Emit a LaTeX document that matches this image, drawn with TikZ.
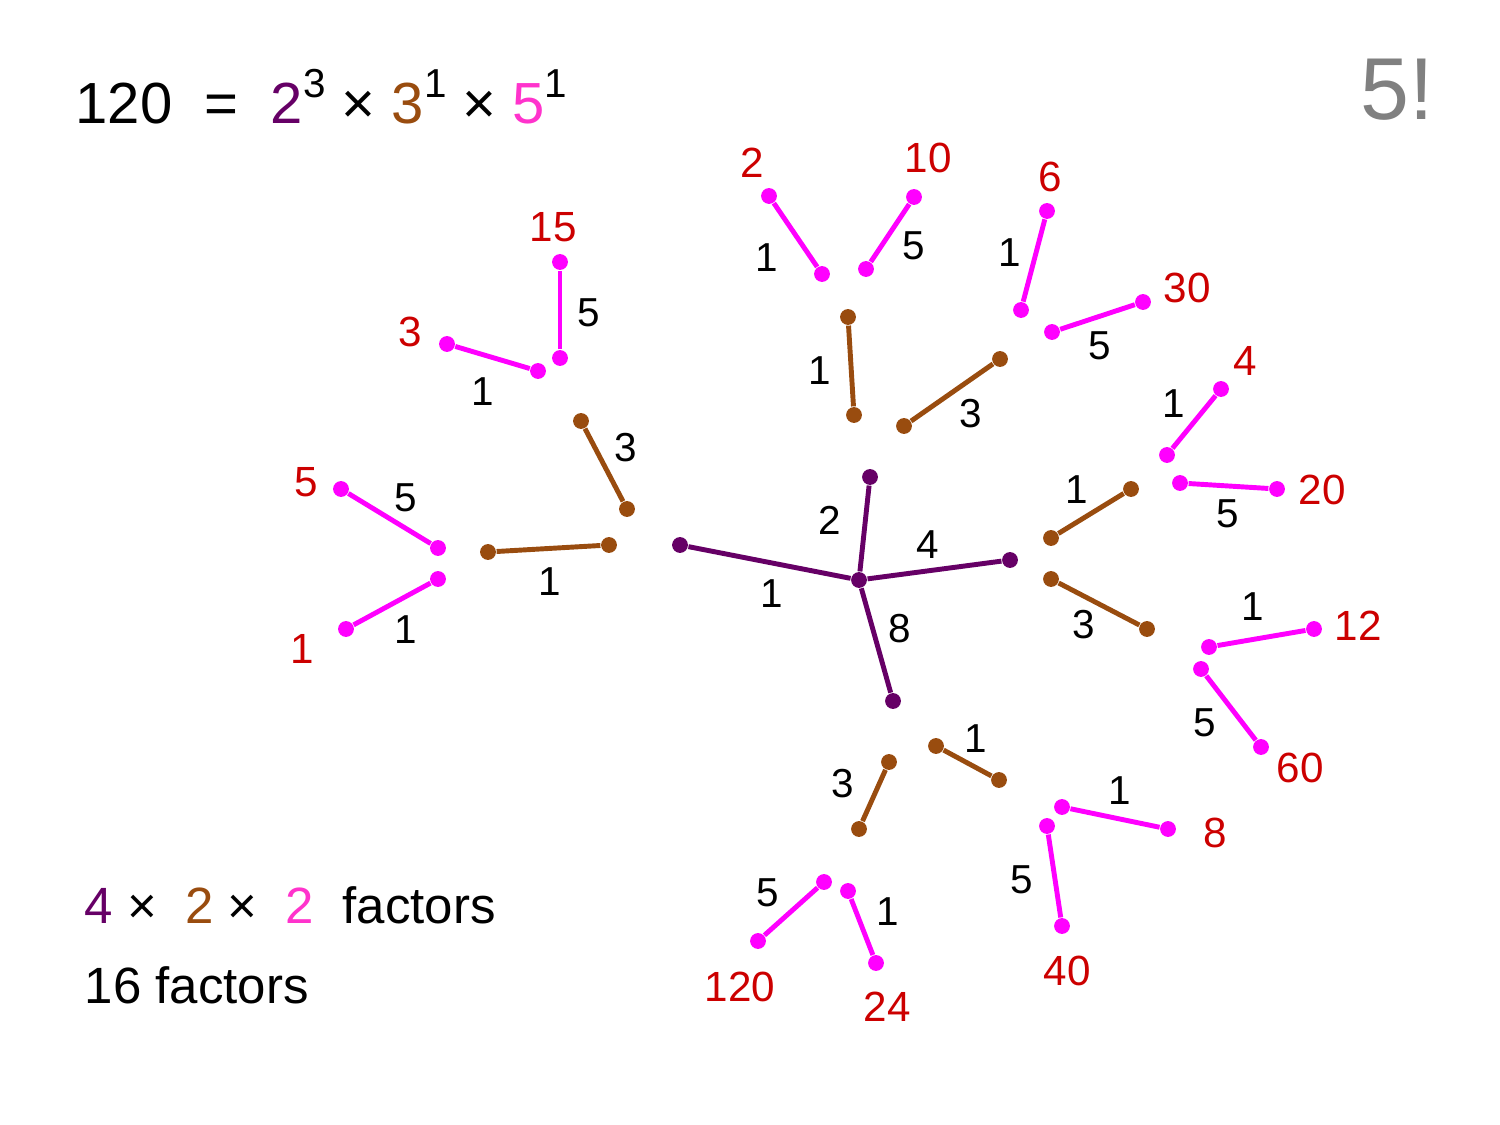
\documentclass[tikz,border=0pt]{standalone}
\usepackage{fontspec}
\setmainfont{Liberation Sans}
\definecolor{pur}{HTML}{660066}
\definecolor{brn}{HTML}{994C0F}
\definecolor{mag}{HTML}{FF00FF}
\definecolor{pnk}{HTML}{FF33CC}
\definecolor{leafred}{HTML}{CC0000}
\tikzset{
  dotend/.style={circle,fill,inner sep=0pt,minimum size=4.5pt},
  lab/.style={font=\fontsize{11.5}{13}\selectfont,text=black},
  leaf/.style={font=\fontsize{12}{14}\selectfont,text=leafred},
  seg/.style={line width=1.4pt}
}
% #1 name, #2 colour, #3 start, #4 end, #5 label pos, #6 label
\newcommand\mseg[6]{%
  \node[dotend,#2] (#1s) at (#3) {};
  \node[dotend,#2] (#1e) at (#4) {};
  \draw[seg,#2] (#1s) -- (#1e);
  \node[lab] (#1l) at (#5) {#6};}
\newcommand\sups[1]{\raisebox{0.85ex}{\fontsize{11.5}{13}\selectfont #1}}
\begin{document}
\begin{tikzpicture}[x=0.01cm,y=-0.01cm]
\useasboundingbox (0,0) rectangle (1500,1125);
\node[font=\fontsize{16.5}{19}\selectfont,anchor=west,inner sep=0pt] (title) at (75,97)
  {120 \ = \ \textcolor{pur}{2}\sups{3} × \textcolor{brn}{3}\sups{1} × \textcolor{pnk}{5}\sups{1}};
\node[font=\fontsize{25}{28}\selectfont,text=gray] (fact) at (1397,90) {5!};
\node[font=\fontsize{14.5}{17}\selectfont,anchor=west,inner sep=0pt] (f1) at (84,905)
  {\textcolor{pur}{4} × \ \textcolor{brn}{2} × \ \textcolor{pnk}{2} \ factors};
\node[font=\fontsize{14.5}{17}\selectfont,anchor=west,inner sep=0pt] (f2) at (84,985) {16 factors};
% purple
\node[dotend,pur] (c) at (859,580) {};
\node[dotend,pur] (p1) at (680,545) {};
\node[dotend,pur] (p2) at (870,477) {};
\node[dotend,pur] (p4) at (1010,560) {};
\node[dotend,pur] (p8) at (893,701) {};
\draw[seg,pur] (c)--(p1) (c)--(p2) (c)--(p4) (c)--(p8);
\node[lab] (l1) at (772,594) {1};
\node[lab] (l2) at (830,520) {2};
\node[lab] (l4) at (928,545) {4};
\node[lab] (l8) at (900,629) {8};
% brown
\mseg{ba}{brn}{488,552}{609,545}{550,582}{1}
\mseg{bb}{brn}{627,509}{581,421}{626,448}{3}
\mseg{bc}{brn}{854,415}{848,317}{820,371}{1}
\mseg{bd}{brn}{904,426}{1000,359}{971,414}{3}
\mseg{be}{brn}{1051,538}{1131,489}{1077,490}{1}
\mseg{bf}{brn}{1051,579}{1147,629}{1084,625}{3}
\mseg{bg}{brn}{936,746}{999,780}{976,739}{1}
\mseg{bh}{brn}{889,762}{859,829}{843,784}{3}
% magenta
\mseg{ma}{mag}{438,548}{341,489}{406,498}{5}
\mseg{mb}{mag}{438,579}{346,629}{406,630}{1}
\mseg{mc}{mag}{538,371}{447,344}{483,392}{1}
\mseg{md}{mag}{560,358}{560,262}{589,313}{5}
\mseg{me}{mag}{822,274}{769,196}{767,258}{1}
\mseg{mf}{mag}{866,269}{914,197}{914,246}{5}
\mseg{mg}{mag}{1021,310}{1047,211}{1010,253}{1}
\mseg{mh}{mag}{1052,332}{1143,302}{1100,346}{5}
\mseg{mi}{mag}{1167,455}{1221,389}{1174,404}{1}
\mseg{mj}{mag}{1180,483}{1277,489}{1228,514}{5}
\mseg{mk}{mag}{1209,647}{1314,629}{1253,607}{1}
\mseg{ml}{mag}{1201,669}{1261,747}{1205,723}{5}
\mseg{mm}{mag}{1062,807}{1168,829}{1120,791}{1}
\mseg{mn}{mag}{1047,826}{1062,926}{1022,880}{5}
\mseg{mo}{mag}{824,882}{758,941}{768,893}{5}
\mseg{mp}{mag}{848,891}{876,963}{888,912}{1}
% leaves
\node[leaf] (t5) at (306,482) {5};
\node[leaf] (t1) at (302,649) {1};
\node[leaf] (t3) at (410,332) {3};
\node[leaf] (t15) at (553,227) {15};
\node[leaf] (t2) at (752,163) {2};
\node[leaf] (t10) at (928,158) {10};
\node[leaf] (t6) at (1050,177) {6};
\node[leaf] (t30) at (1187,288) {30};
\node[leaf] (t4) at (1245,361) {4};
\node[leaf] (t20) at (1322,490) {20};
\node[leaf] (t12) at (1358,626) {12};
\node[leaf] (t60) at (1300,768) {60};
\node[leaf] (t8) at (1215,833) {8};
\node[leaf] (t40) at (1067,971) {40};
\node[leaf] (t120) at (740,987) {120};
\node[leaf] (t24) at (887,1007) {24};
\end{tikzpicture}
\end{document}
